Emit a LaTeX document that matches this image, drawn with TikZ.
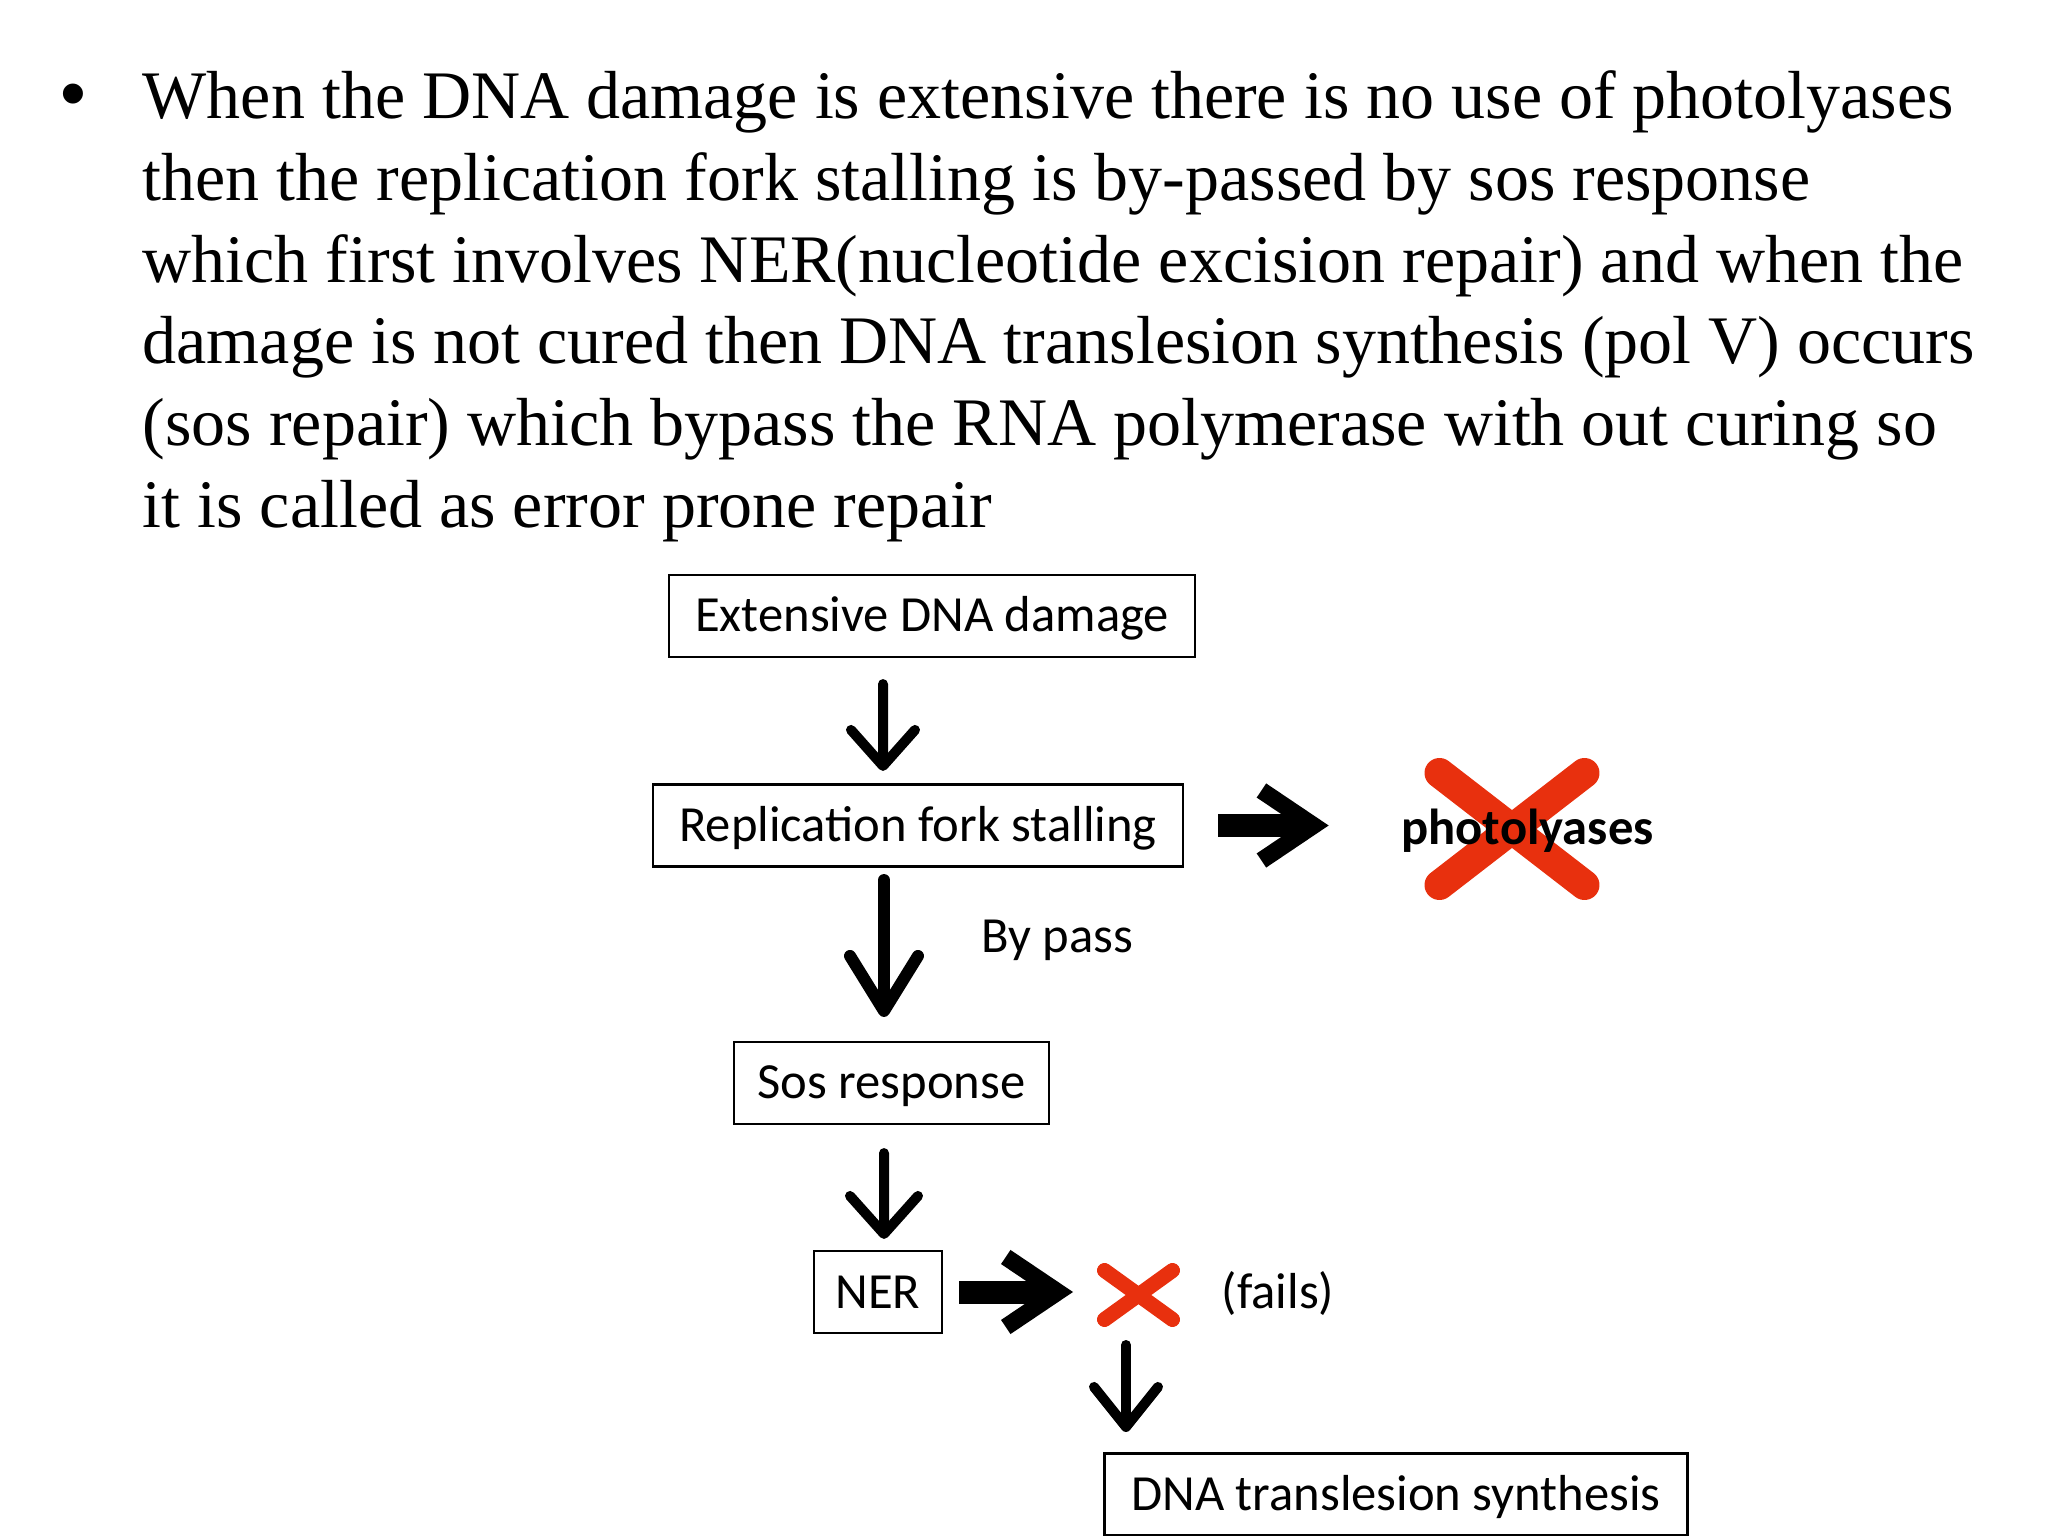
\documentclass[tikz,border=0pt]{standalone}
\usepackage{fontspec}
\setmainfont{Carlito}
\newfontfamily\timesfont{Liberation Serif}
\newfontfamily\arialfont{Liberation Sans}
\usetikzlibrary{arrows.meta,shapes.misc}
\definecolor{crossred}{RGB}{232,48,14}

\begin{document}
\begin{tikzpicture}[
    txt/.style={anchor=base west, inner sep=0pt, font=\timesfont\fontsize{19.35}{23.3}\selectfont},
    box/.style={rectangle, draw, line width=0.6pt, minimum height=0.82cm, inner xsep=0pt, text height=0.42cm, text depth=0.1cm, font=\fontsize{14.4}{17}\selectfont},
    note/.style={inner sep=0pt, font=\fontsize{14.4}{17}\selectfont},
    nogo/.style={cross out, draw=crossred, line cap=round, inner sep=0pt, outer sep=0pt},
    arrow/.style={-{Straight Barb[round, length=0.36cm, width=0.64cm]}, line width=0.1cm, line cap=round},
    bigarrow/.style={-{Straight Barb[sharp, line width=0.17cm, length=0.52cm, width=0.70cm]}, line width=0.23cm}
]
\useasboundingbox (0,0) rectangle (20.48,-15.36);

\node[anchor=base west, inner sep=0pt, font=\arialfont\fontsize{21}{25}\selectfont] (bullet) at (0.60,-1.19) {•};
\node[txt] (l1) at (1.42,-1.19) {When the DNA damage is extensive there is no use of photolyases};
\node[txt] (l2) at (1.42,-2.01) {then the replication fork stalling is by-passed by sos response};
\node[txt] (l3) at (1.42,-2.83) {which first involves NER(nucleotide excision repair) and when the};
\node[txt] (l4) at (1.42,-3.64) {damage is not cured then DNA translesion synthesis (pol V) occurs};
\node[txt] (l5) at (1.42,-4.46) {(sos repair) which bypass the RNA polymerase with out curing so};
\node[txt] (l6) at (1.42,-5.28) {it is called as error prone repair};

\node[box, minimum width=5.26cm] (dmg) at (9.32,-6.16) {Extensive DNA damage};
\node[box, minimum width=5.30cm] (stall) at (9.18,-8.255) {Replication fork stalling};
\node[box, minimum width=3.15cm] (sos) at (8.915,-10.83) {Sos response};
\node[box, minimum width=1.28cm] (ner) at (8.78,-12.92) {NER};
\node[box, minimum width=5.83cm] (tls) at (13.96,-14.945) {DNA translesion synthesis};

\node[nogo, line width=0.3cm, minimum width=1.45cm, minimum height=1.12cm] (nophoto) at (15.12,-8.29) {};
\node[note, font=\fontsize{14.4}{17}\selectfont\bfseries] (photo) at (15.275,-8.31) {photolyases};
\node[nogo, line width=0.15cm, minimum width=0.68cm, minimum height=0.49cm] (fail) at (11.385,-12.95) {};
\node[note] (bypass) at (10.57,-9.40) {By pass};
\node[note] (fails) at (12.78,-12.93) {(fails)};

\draw[arrow] ([xshift=-4.9mm,yshift=-2.6mm]dmg.south) -- ([xshift=-3.5mm,yshift=1.25mm]stall.north);
\draw[arrow, line width=0.12cm, -{Straight Barb[round, length=0.55cm, width=0.68cm]}] ([xshift=-3.4mm,yshift=-1.25mm]stall.south) -- ([xshift=-0.75mm,yshift=2.4mm]sos.north);
\draw[arrow, -{Straight Barb[round, length=0.38cm, width=0.68cm]}] ([xshift=-0.75mm,yshift=-2.8mm]sos.south) -- ([xshift=0.6mm,yshift=1.1mm]ner.north);
\draw[arrow, -{Straight Barb[round, length=0.4cm, width=0.64cm]}] ([xshift=-1.25mm,yshift=-2.55mm]fail.south) -- ([xshift=-1.25mm,yshift=2.05mm]fail.south |- tls.north);
\draw[bigarrow] ([xshift=3.4mm]stall.east) -- ([xshift=-7.2mm]photo.west |- stall.east);
\draw[bigarrow] ([xshift=1.6mm]ner.east) -- ([xshift=-3.15mm]fail.west |- ner.east);
\end{tikzpicture}
\end{document}
